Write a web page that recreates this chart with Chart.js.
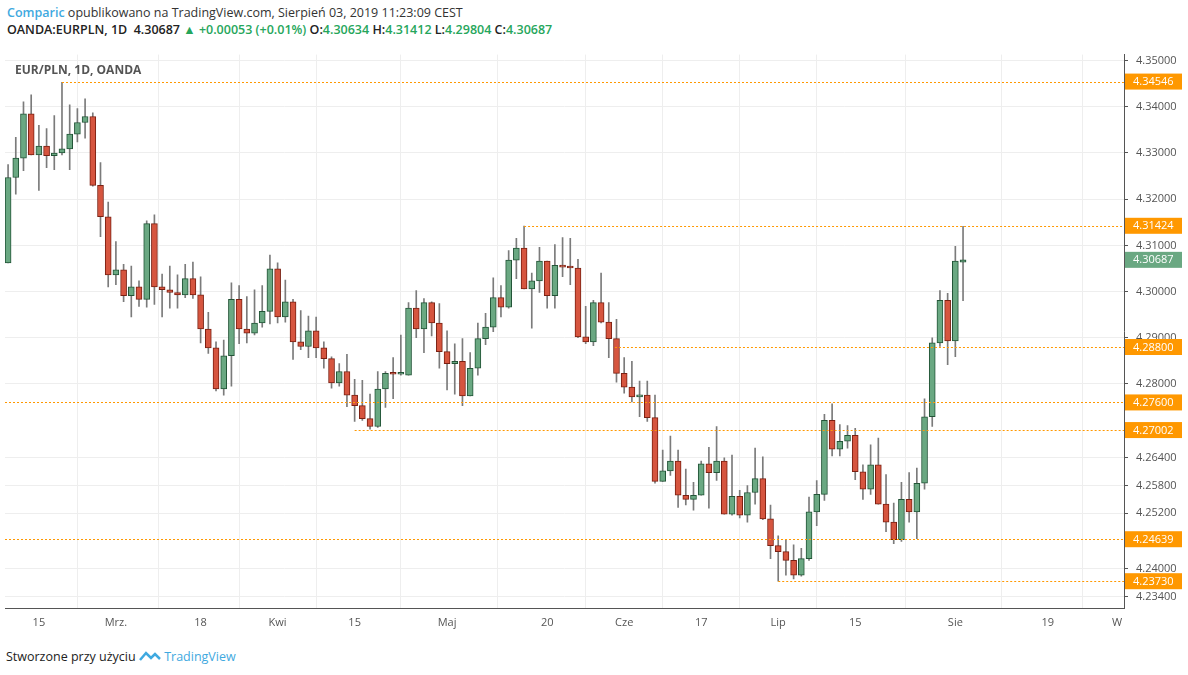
<!DOCTYPE html>
<html><head><meta charset="utf-8">
<script src="https://cdn.jsdelivr.net/npm/chart.js@4"></script>
<style>
body{margin:0;width:1188px;height:675px;background:#fff;font-family:"Open Sans","Liberation Sans",sans-serif;position:relative;overflow:hidden}
#h1{position:absolute;left:7px;top:4px;font-size:12.5px;color:#333}
#h1 b{color:#3fa9e0;font-weight:600}
#h2{position:absolute;left:7px;top:21px;font-size:12.5px;color:#222;font-weight:600}
#h2 .g{color:#26a65b}
#wrap{position:absolute;left:0;top:40px;width:1188px;height:600px}
#foot{position:absolute;left:6px;top:648px;font-size:12.5px;color:#222}
#foot span{color:#3fa9e0}
</style></head><body>
<div id="h1"><b>Comparic</b> opublikowano na TradingView.com, Sierpień 03, 2019 11:23:09 CEST</div>
<div id="h2">OANDA:EURPLN, 1D&nbsp; 4.30687 <span class="g">▲ +0.00053 (+0.01%)</span> O:<span class="g">4.30634</span> H:<span class="g">4.31412</span> L:<span class="g">4.29804</span> C:<span class="g">4.30687</span></div>
<div id="wrap"><canvas id="c" width="1188" height="600" style="width:1188px;height:600px"></canvas></div>
<div id="foot">Stworzone przy użyciu <svg width="22" height="12" viewBox="0 0 22 12" style="vertical-align:-1px"><path d="M1 10 L7 3 L12 8 L16 4 L21 9" stroke="#3fa9e0" stroke-width="2.5" fill="none"/></svg> <span>TradingView</span></div>
<script>
const opens=[4.3062,4.3247,4.3289,4.3385,4.3296,4.3315,4.3294,4.3300,4.3309,4.3341,4.3366,4.3379,4.3230,4.3162,4.3036,4.3047,4.2991,4.3010,4.2983,4.3147,4.3010,4.3004,4.2998,4.2993,4.3028,4.2993,4.2919,4.2878,4.2789,4.2861,4.2983,4.2919,4.2910,4.2932,4.2957,4.3049,4.2945,4.2978,4.2891,4.2881,4.2915,4.2878,4.2855,4.2802,4.2827,4.2776,4.2753,4.2725,4.2708,4.2789,4.2823,4.2821,4.2819,4.2964,4.2919,4.2976,4.2932,4.2870,4.2844,4.2849,4.2774,4.2834,4.2898,4.2923,4.2987,4.2966,4.3068,4.3094,4.3006,4.3023,4.3066,4.2991,4.3057,4.3053,4.3051,4.2902,4.2891,4.2976,4.2934,4.2898,4.2823,4.2793,4.2772,4.2776,4.2727,4.2589,4.2612,4.2633,4.2559,4.2550,4.2559,4.2627,4.2608,4.2633,4.2518,4.2557,4.2516,4.2565,4.2595,4.2508,4.2450,4.2437,4.2418,4.2386,4.2422,4.2523,4.2561,4.2721,4.2659,4.2676,4.2689,4.2610,4.2572,4.2625,4.2540,4.2501,4.2463,4.2550,4.2523,4.2585,4.2729,4.2889,4.2981,4.2893,4.30634];
const highs=[4.3275,4.3334,4.3411,4.3426,4.3360,4.3353,4.3381,4.3453,4.3404,4.3396,4.3417,4.3387,4.3279,4.3194,4.3108,4.3059,4.3055,4.3023,4.3153,4.3166,4.3038,4.3055,4.3036,4.3059,4.3064,4.3032,4.2955,4.2891,4.2895,4.3019,4.3013,4.2989,4.3004,4.3013,4.3079,4.3062,4.3025,4.2983,4.2959,4.2947,4.2945,4.2891,4.2859,4.2844,4.2864,4.2810,4.2808,4.2778,4.2827,4.2827,4.2857,4.2906,4.2976,4.3002,4.2985,4.2978,4.2974,4.2915,4.2887,4.2898,4.2868,4.2932,4.2953,4.3030,4.3013,4.3089,4.3115,4.3142,4.3040,4.3096,4.3066,4.3102,4.3117,4.3115,4.3070,4.2968,4.2981,4.3040,4.2976,4.2940,4.2857,4.2849,4.2806,4.2806,4.2776,4.2657,4.2687,4.2657,4.2616,4.2587,4.2633,4.2663,4.2708,4.2640,4.2646,4.2570,4.2580,4.2661,4.2642,4.2538,4.2471,4.2463,4.2452,4.2444,4.2555,4.2591,4.2734,4.2757,4.2712,4.2710,4.2704,4.2625,4.2668,4.2683,4.2604,4.2542,4.2587,4.2608,4.2618,4.2768,4.2900,4.3002,4.2996,4.3098,4.31414];
const lows=[4.3062,4.3211,4.3262,4.3296,4.3219,4.3268,4.3264,4.3296,4.3264,4.3324,4.3332,4.3228,4.3119,4.3010,4.3015,4.2978,4.2945,4.2968,4.2966,4.2972,4.2945,4.2964,4.2964,4.2987,4.2985,4.2889,4.2866,4.2785,4.2776,4.2795,4.2887,4.2889,4.2906,4.2923,4.2930,4.2932,4.2934,4.2853,4.2874,4.2857,4.2857,4.2834,4.2791,4.2795,4.2751,4.2719,4.2721,4.2702,4.2706,4.2749,4.2768,4.2819,4.2819,4.2900,4.2868,4.2904,4.2834,4.2787,4.2778,4.2753,4.2774,4.2819,4.2885,4.2913,4.2945,4.2964,4.3028,4.3006,4.2921,4.2998,4.2964,4.2964,4.3032,4.3015,4.2900,4.2887,4.2883,4.2932,4.2857,4.2804,4.2780,4.2761,4.2729,4.2719,4.2585,4.2589,4.2602,4.2533,4.2538,4.2527,4.2559,4.2531,4.2591,4.2518,4.2516,4.2510,4.2501,4.2540,4.2506,4.2422,4.2373,4.2386,4.2378,4.2384,4.2418,4.2493,4.2548,4.2644,4.2644,4.2661,4.2593,4.2550,4.2561,4.2540,4.2480,4.2454,4.2459,4.2501,4.2465,4.2572,4.2708,4.2881,4.2842,4.2859,4.29804];
const closes=[4.3247,4.3289,4.3385,4.3296,4.3315,4.3294,4.3300,4.3309,4.3341,4.3366,4.3379,4.3230,4.3162,4.3036,4.3047,4.2991,4.3010,4.2983,4.3147,4.3010,4.3004,4.2998,4.2993,4.3028,4.2993,4.2919,4.2878,4.2789,4.2861,4.2983,4.2919,4.2910,4.2932,4.2957,4.3049,4.2945,4.2978,4.2891,4.2881,4.2915,4.2878,4.2855,4.2802,4.2827,4.2776,4.2753,4.2725,4.2708,4.2789,4.2823,4.2821,4.2821,4.2964,4.2919,4.2976,4.2932,4.2870,4.2844,4.2849,4.2774,4.2834,4.2898,4.2923,4.2987,4.2966,4.3068,4.3094,4.3006,4.3023,4.3066,4.2991,4.3057,4.3053,4.3051,4.2902,4.2891,4.2976,4.2934,4.2898,4.2823,4.2793,4.2772,4.2776,4.2727,4.2589,4.2612,4.2633,4.2559,4.2550,4.2559,4.2627,4.2608,4.2633,4.2518,4.2557,4.2516,4.2565,4.2595,4.2508,4.2450,4.2437,4.2418,4.2386,4.2422,4.2523,4.2561,4.2721,4.2659,4.2676,4.2689,4.2610,4.2572,4.2625,4.2540,4.2501,4.2463,4.2550,4.2523,4.2585,4.2729,4.2889,4.2981,4.2893,4.3066,4.30687];
const xTickIdx=[4,14,25,35,45,57,70,80,90,100,110,123,135,144];
const xTickLabels=['15','Mrz.','18','Kwi','15','Maj','20','Cze','17','Lip','15','Sie','19','W'];
const yTicks=[4.35,4.34,4.33,4.32,4.31,4.30,4.29,4.28,4.264,4.258,4.252,4.24,4.234];
const levelValues=[4.34546,4.31424,4.28800,4.27600,4.27002,4.24639,4.23730];
const levelStarts=[7,67,78.8,-0.4,45,-0.4,100];
const lastPrice=4.30687;

const GF='#6aa882',GB='#225437',RF='#d6553f',RB='#7a2012';
const up=closes.map((c,i)=>c>=opens[i]);
const wick=opens.map((o,i)=>({x:i,y:[lows[i],highs[i]]}));
const body=opens.map((o,i)=>({x:i,y:[o,closes[i]]}));

const overlay={id:'overlay',
 afterDatasetsDraw(ch){const {ctx,scales:{x,y},chartArea:a}=ch;
  ctx.save();ctx.strokeStyle='#ff9800';ctx.lineWidth=1;ctx.setLineDash([2,2]);
  levelValues.forEach((v,i)=>{const py=Math.round(y.getPixelForValue(v))+0.5;ctx.beginPath();ctx.moveTo(Math.max(a.left,x.getPixelForValue(levelStarts[i])),py);ctx.lineTo(a.right,py);ctx.stroke();});
  ctx.setLineDash([]);
  ctx.font='bold 12px "Open Sans",sans-serif';ctx.fillStyle='#555';ctx.textBaseline='middle';
  ctx.fillText('EUR/PLN, 1D, OANDA',a.left+10,a.top+16);
  ctx.restore();},
 afterDraw(ch){const {ctx,scales:{y},chartArea:a}=ch;ctx.save();
  ctx.font='11px "Open Sans",sans-serif';ctx.textBaseline='middle';
  const box=(v,col)=>{const py=y.getPixelForValue(v);ctx.fillStyle=col;ctx.fillRect(a.right+1,py-8,57,16);ctx.fillStyle='#fff';ctx.fillText(v.toFixed(5),a.right+9,py+0.5);};
  levelValues.forEach(v=>box(v,'#ff9800'));box(lastPrice,'#6aa882');ctx.restore();}
};

new Chart(document.getElementById('c'),{
 type:'bar',
 data:{datasets:[
  {data:wick,backgroundColor:'#7b7b7b',borderWidth:0,barThickness:1,grouped:false,order:2},
  {data:body,backgroundColor:up.map(u=>u?GF:RF),borderColor:up.map(u=>u?GB:RB),borderWidth:1,borderSkipped:false,barThickness:6,grouped:false,minBarLength:2,order:1}
 ]},
 options:{responsive:false,animation:false,maintainAspectRatio:false,devicePixelRatio:1,
  layout:{padding:{left:5,top:5,right:0,bottom:0}},
  plugins:{legend:{display:false},tooltip:{enabled:false}},
  scales:{
   x:{type:'linear',min:-0.4,max:144.9,offset:false,
    afterBuildTicks(s){s.ticks=xTickIdx.map(v=>({value:v}));},
    afterFit(s){s.height=32;},
    ticks:{autoSkip:false,maxRotation:0,color:'#555',font:{size:11,family:'"Open Sans",sans-serif'},padding:8,callback:(v)=>xTickLabels[xTickIdx.indexOf(v)]},
    grid:{color:'#eeeeee',drawTicks:false},border:{color:'#555'}},
   y:{position:'right',min:4.2315,max:4.3513,
    afterBuildTicks(s){s.ticks=yTicks.map(v=>({value:v}));},
    afterFit(s){s.width=64;},
    ticks:{color:'#555',font:{size:11,family:'"Open Sans",sans-serif'},padding:8,callback:v=>v.toFixed(5)},
    grid:{color:'#eeeeee',drawTicks:true,tickLength:4,tickColor:'#555'},border:{color:'#555'}}
  }},
 plugins:[overlay]
});
</script>
</body></html>
